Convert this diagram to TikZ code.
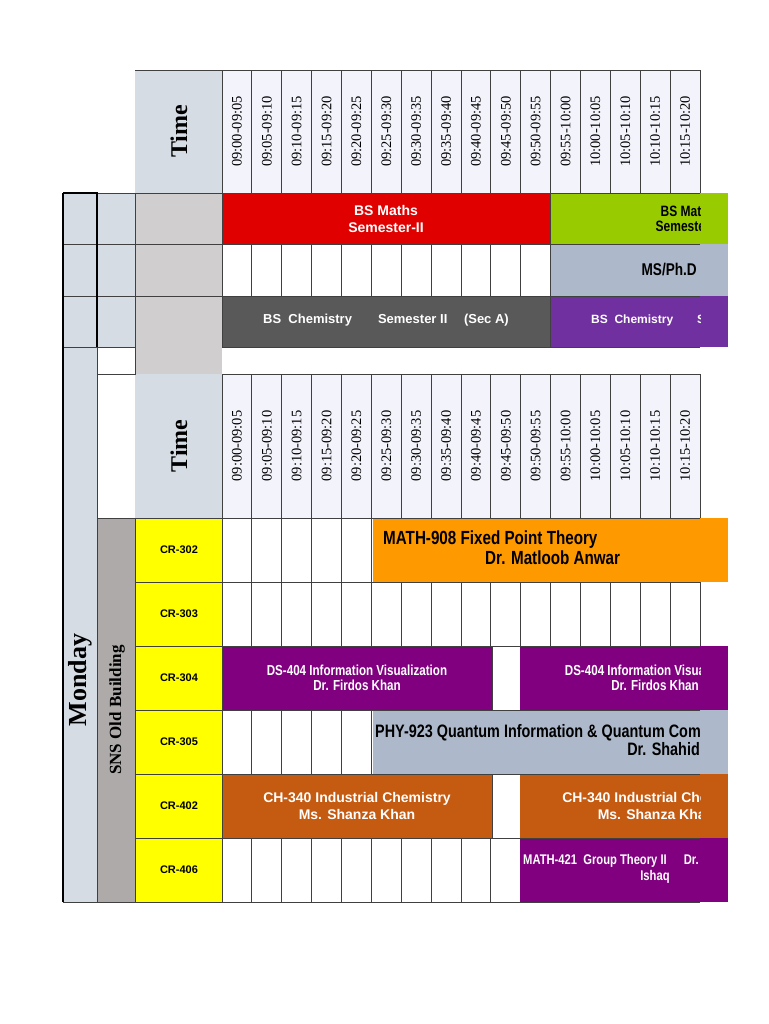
\documentclass[tikz,border=0pt]{standalone}
\usepackage{fontspec}
\setmainfont{Liberation Serif}
\newfontfamily\arial{Liberation Sans}
\newfontfamily\narrow[FakeStretch=0.8]{Liberation Sans}
\begin{document}
\begin{tikzpicture}[x=1pt,y=-1pt,
  grid/.style={draw=black!75,line width=0.8pt},
  hdr/.style={fill=hdrc,draw=black!75,line width=0.8pt},
  tlab/.style={rotate=90,font=\fontsize{14.5}{14.5}\selectfont,inner sep=0pt},
  big/.style={rotate=90,font=\bfseries\fontsize{24}{24}\selectfont,inner sep=0pt},
  cr/.style={font=\arial\bfseries\fontsize{11}{11}\selectfont,inner sep=0pt},
  wt/.style={text=white,align=center,inner sep=0pt},
  nb/.style={font=\narrow\bfseries\fontsize{15}{17}\selectfont,inner sep=0pt}]
\definecolor{hdrc}{HTML}{F3F3FB}
\definecolor{lblue}{HTML}{D6DCE4}
\definecolor{lgray}{HTML}{D0CECE}
\definecolor{mgray}{HTML}{AEAAAA}
\definecolor{bred}{HTML}{E00000}
\definecolor{bgreen}{HTML}{99CC00}
\definecolor{bgb}{HTML}{ADB9CA}
\definecolor{dgray}{HTML}{595959}
\definecolor{vio}{HTML}{7030A0}
\definecolor{orng}{HTML}{FF9900}
\definecolor{purp}{HTML}{800080}
\definecolor{brwn}{HTML}{C55A11}
\definecolor{yel}{HTML}{FFFF00}
\useasboundingbox (0,0) rectangle (768,1024);
\fill[white] (0,0) rectangle (768,1024);
\def\W{29.875}
% time headers
\foreach \yt/\yb in {70/193,374/518}{
  \foreach \lab [count=\i from 0] in {09:00-09:05,09:05-09:10,09:10-09:15,09:15-09:20,09:20-09:25,09:25-09:30,09:30-09:35,09:35-09:40,09:40-09:45,09:45-09:50,09:50-09:55,09:55-10:00,10:00-10:05,10:05-10:10,10:10-10:15,10:15-10:20}{
    \path[hdr] ({222+\W*\i},\yt) rectangle ({222+\W*(\i+1)},\yb);
    \node[tlab] (t\yt-\i) at ({222+\W*(\i+0.5)},{(\yt+\yb)/2}) {\lab};
  }
  \path[fill=lblue] (135,\yt) rectangle (222,\yb);
  \node[big] (time\yt) at (179,{(\yt+\yb)/2}) {Time};
}
\draw[grid] (135,70) -- (700,70);
% left upper cells
\foreach \yt/\yb in {193/244,244/296,296/347}{
  \path[fill=lblue,draw=black!75] (63,\yt) rectangle (97,\yb);
  \path[fill=lblue,draw=black!75] (97,\yt) rectangle (135,\yb);
  \path[fill=lgray,draw=black!75] (135,\yt) rectangle (222,\yb);
}
\path[fill=lgray] (135,347) rectangle (222,374);
\draw[grid] (97,347) rectangle (135,374);
% white cell rows
\foreach \yt/\yb/\n in {244/296/11,518/582/5,582/646/16,710/774/5,838/902/10}{
  \foreach \i in {1,...,\n}{
    \path[grid,fill=white] ({222+\W*(\i-1)},\yt) rectangle ({222+\W*\i},\yb);
  }
}
\path[grid,fill=white] (492,646) rectangle (520,710);
\path[grid,fill=white] (492,774) rectangle (520,838);
% colored blocks
\fill[bred] (222,193) rectangle (550,244);
\fill[bgreen] (550,193) rectangle (728,244);
\fill[bgb] (550,244) rectangle (728,296);
\fill[dgray] (222,296) rectangle (550,347);
\fill[vio] (550,296) rectangle (728,347);
\fill[orng] (373,518) rectangle (728,582);
\fill[purp] (222,646) rectangle (492,710);
\fill[purp] (520,646) rectangle (728,710);
\fill[bgb] (373,710) rectangle (728,774);
\fill[brwn] (222,774) rectangle (492,838);
\fill[brwn] (520,774) rectangle (728,838);
\fill[purp] (520,838) rectangle (728,902);
\foreach \y in {193,244,296,347,518,582,646,710,774,838,902}{
  \draw[grid] (222,\y) -- (700,\y);
}
\draw[grid] (222,193) -- (222,347);
\draw[grid] (222,518) -- (222,902);
\draw[grid] (550,193) -- (550,347);
% left lower
\path[fill=lblue,draw=black!75] (63,347) rectangle (97,902);
\path[fill=mgray,draw=black!75] (97,518) rectangle (135,902);
\foreach \c [count=\k from 0] in {302,303,304,305,402,406}{
  \path[fill=yel,draw=black!75] (135,{518+64*\k}) rectangle (222,{582+64*\k});
  \node[cr] (cr\c) at (179,{550+64*\k}) {CR-\c};
}
\draw[line width=1.6pt] (63,193) -- (63,902);
\draw[line width=1.2pt] (63,193) -- (97,193) -- (97,347);
\node[big,font=\bfseries\fontsize{26}{26}\selectfont] (mon) at (80,680) {Monday};
\node[big,font=\bfseries\fontsize{17}{17}\selectfont] (sns) at (117,710) {SNS Old Building};
% texts
\node[wt,font=\arial\bfseries\fontsize{14}{17}\selectfont] (bsm) at (386,219) {BS Maths\\Semester-II};
\node[wt,font=\arial\bfseries\fontsize{13}{13}\selectfont] (bsc) at (386,320) {BS\ \ Chemistry\qquad Semester II\quad\ (Sec A)};
\node[wt,font=\narrow\bfseries\fontsize{14.5}{15}\selectfont] (ds1) at (357,678) {DS-404 Information Visualization\\Dr. Firdos Khan};
\node[wt,font=\arial\bfseries\fontsize{14}{17}\selectfont] (ch1) at (357,806) {CH-340 Industrial Chemistry\\Ms. Shanza Khan};
\node[nb,anchor=west,font=\narrow\bfseries\fontsize{19}{19}\selectfont] (m908a) at (383,540) {MATH-908 Fixed Point Theory};
\node[nb,anchor=west,font=\narrow\bfseries\fontsize{19}{19}\selectfont] (m908b) at (485,558) {Dr. Matloob Anwar};
\begin{scope}
\clip (222,180) rectangle (700,910);
\node[align=center,inner sep=0pt,font=\narrow\bfseries\fontsize{15}{15}\selectfont] (bsm2) at (688,219) {BS Maths\\Semester-II};
\node[anchor=east,inner sep=0pt,font=\narrow\bfseries\fontsize{17}{17}\selectfont] (ms) at (697,270) {MS/Ph.D};
\node[anchor=west,text=white,inner sep=0pt,font=\arial\bfseries\fontsize{12}{12}\selectfont] (bsc2) at (591,320) {BS\ \ Chemistry\qquad Semester II};
\node[wt,font=\narrow\bfseries\fontsize{14.5}{15}\selectfont] (ds2) at (655,678) {DS-404 Information Visualization\\Dr. Firdos Khan};
\node[nb,anchor=west,font=\narrow\bfseries\fontsize{18}{18}\selectfont] (phy1) at (375,733) {PHY-923 Quantum Information \& Quantum Computing};
\node[nb,anchor=east,font=\narrow\bfseries\fontsize{18}{18}\selectfont] (phy2) at (700,749) {Dr. Shahid};
\node[wt,font=\arial\bfseries\fontsize{14}{17}\selectfont] (ch2) at (656,806) {CH-340 Industrial Chemistry\\Ms. Shanza Khan};
\node[anchor=west,text=white,inner sep=0pt,font=\narrow\bfseries\fontsize{14}{14}\selectfont] (g1) at (523,861) {MATH-421\ \ Group Theory II\quad\ Dr.};
\node[text=white,inner sep=0pt,font=\narrow\bfseries\fontsize{14}{14}\selectfont] (g2) at (655,877) {Ishaq};
\end{scope}
\end{tikzpicture}
\end{document}
